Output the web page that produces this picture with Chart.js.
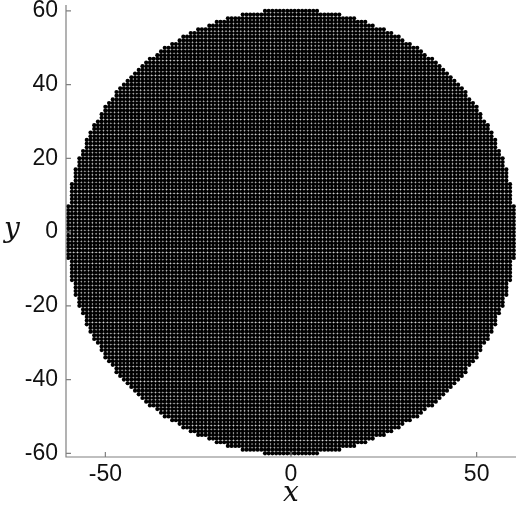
<!DOCTYPE html>
<html>
<head>
<meta charset="utf-8">
<script src="https://cdn.jsdelivr.net/npm/chart.js@4"></script>
<style>
  html, body { margin: 0; padding: 0; background: #fff; }
  #wrap { width: 520px; height: 516px; }
</style>
</head>
<body>
<div id="wrap"><canvas id="c" width="520" height="516"></canvas></div>
<script>
// half-width (in grid units) of each lattice row, for |y| = 0..60
var rowHalfWidth = [60,60,60,60,60,60,60,60,59,59,59,59,59,59,58,58,58,58,57,57,
  57,56,56,55,55,55,54,54,53,53,52,51,51,50,50,49,48,47,47,46,
  45,44,43,42,41,40,39,38,36,35,34,32,30,29,27,25,22,20,17,13,7];
var xTicks = [-50, 0, 50];
var yTicks = [-60, -40, -20, 0, 20, 40, 60];

var pts = [];
for (var r = -60; r <= 60; r++) {
  var hw = rowHalfWidth[Math.abs(r)];
  for (var c = -hw; c <= hw; c++) pts.push({x: c, y: r});
}

var axisColor = '#808080';
var tickFont = '23px Arial, "Liberation Sans", sans-serif';

var decor = {
  id: 'decor',
  afterDraw: function (chart) {
    var ctx = chart.ctx, a = chart.chartArea;
    var sx = chart.scales.x, sy = chart.scales.y;
    ctx.save();
    ctx.strokeStyle = axisColor;
    ctx.lineWidth = 1.2;
    ctx.beginPath();
    ctx.moveTo(a.left, a.top); ctx.lineTo(a.left, a.bottom); ctx.lineTo(a.right, a.bottom);
    xTicks.forEach(function (v) { var p = sx.getPixelForValue(v); ctx.moveTo(p, a.bottom); ctx.lineTo(p, a.bottom - 5); });
    yTicks.forEach(function (v) { var p = sy.getPixelForValue(v); ctx.moveTo(a.left, p); ctx.lineTo(a.left + 5, p); });
    ctx.stroke();
    ctx.fillStyle = '#111';
    ctx.font = tickFont;
    ctx.textAlign = 'center'; ctx.textBaseline = 'top';
    xTicks.forEach(function (v) { ctx.fillText(String(v), sx.getPixelForValue(v), a.bottom + 6); });
    ctx.textAlign = 'right'; ctx.textBaseline = 'middle';
    yTicks.forEach(function (v) { ctx.fillText(String(v), a.left - 8, sy.getPixelForValue(v)); });
    ctx.font = 'italic 28px "DejaVu Serif", "Liberation Serif", serif';
    ctx.textAlign = 'center';
    ctx.fillText('x', sx.getPixelForValue(0), 494);
    ctx.fillText('y', 12, 230);
    ctx.restore();
  }
};

new Chart(document.getElementById('c'), {
  type: 'scatter',
  data: { datasets: [{ data: pts, backgroundColor: '#000', borderWidth: 0, pointRadius: 2.1 }] },
  options: {
    responsive: false,
    animation: false,
    layout: { padding: { top: 5, right: 4, bottom: 0, left: 0 } },
    scales: {
      x: { min: -60.6, max: 60.6, ticks: { display: false }, grid: { display: false }, border: { display: false },
           afterFit: function (s) { s.height = 59; } },
      y: { min: -61, max: 61.6, ticks: { display: false }, grid: { display: false }, border: { display: false },
           afterFit: function (s) { s.width = 66; } }
    },
    plugins: { legend: { display: false }, tooltip: { enabled: false } }
  },
  plugins: [decor]
});
</script>
</body>
</html>
